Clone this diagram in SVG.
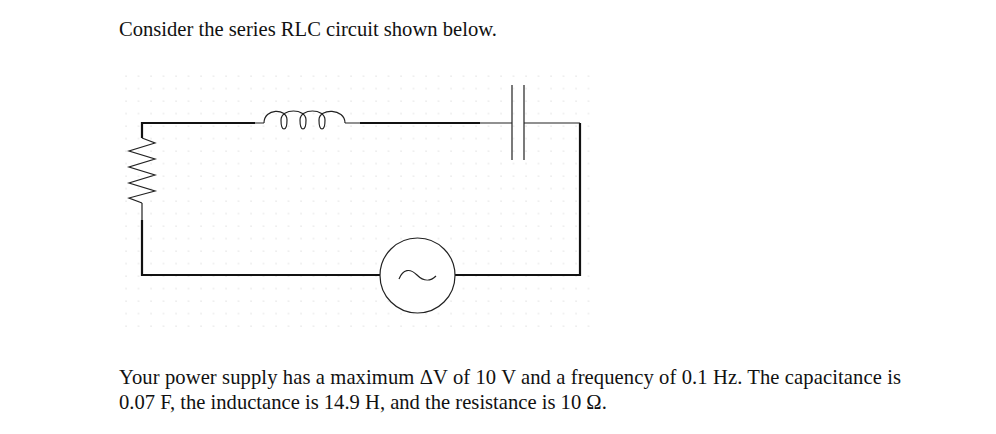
<svg xmlns="http://www.w3.org/2000/svg" width="996" height="434" viewBox="0 0 996 434">
<style>
.t{font-family:"Liberation Serif",serif;font-size:20.6px;fill:#111}
.w{stroke:#111;stroke-width:2.2;fill:none}
.n{stroke:#222;stroke-width:1.2;fill:none}
</style>
<defs><pattern id="g" x="125" y="75" width="12.5" height="12.5" patternUnits="userSpaceOnUse"><circle cx="1" cy="1" r="0.6" fill="#ccc"/></pattern></defs>
<rect width="996" height="434" fill="#fff"/>
<rect x="125" y="75" width="470" height="255" fill="url(#g)"/>
<text class="t" x="119" y="36">Consider the series RLC circuit shown below.</text>
<g id="wires">
<path class="w" d="M255 123H142V138M142 220V275H380M455 275H580V123M360 123H480"/>
<path class="n" d="M480 123H512M524 123H580M142 203V220M255 123H264M345 123H360"/>
</g>
<g id="resistor"><path class="n" d="M142 138L155 143L129 151L155 159L129 167L155 175L129 183L155 191L129 198L142 203"/></g>
<g id="inductor"><path class="n" d="M264 123C264 108 287 108 287 120C287 132 281 132 281 120C281 108 306 108 306 120C306 132 300 132 300 120C300 108 325 108 325 120C325 132 319 132 319 120C319 108 345 108 345 123"/></g>
<g id="capacitor"><path class="n" d="M512 85V160M524 85V160"/></g>
<g id="source"><circle cx="417.5" cy="275.5" r="37.5" fill="#fff" stroke="#222" stroke-width="1.2"/><path class="n" d="M399 279C403 269 410 268 417 275C424 282 431 281 436 276"/></g>
<text class="t" x="119" y="384" textLength="782">Your power supply has a maximum ΔV of 10 V and a frequency of 0.1 Hz. The capacitance is</text>
<text class="t" x="119" y="409">0.07 F, the inductance is 14.9 H, and the resistance is 10 Ω.</text>
</svg>
